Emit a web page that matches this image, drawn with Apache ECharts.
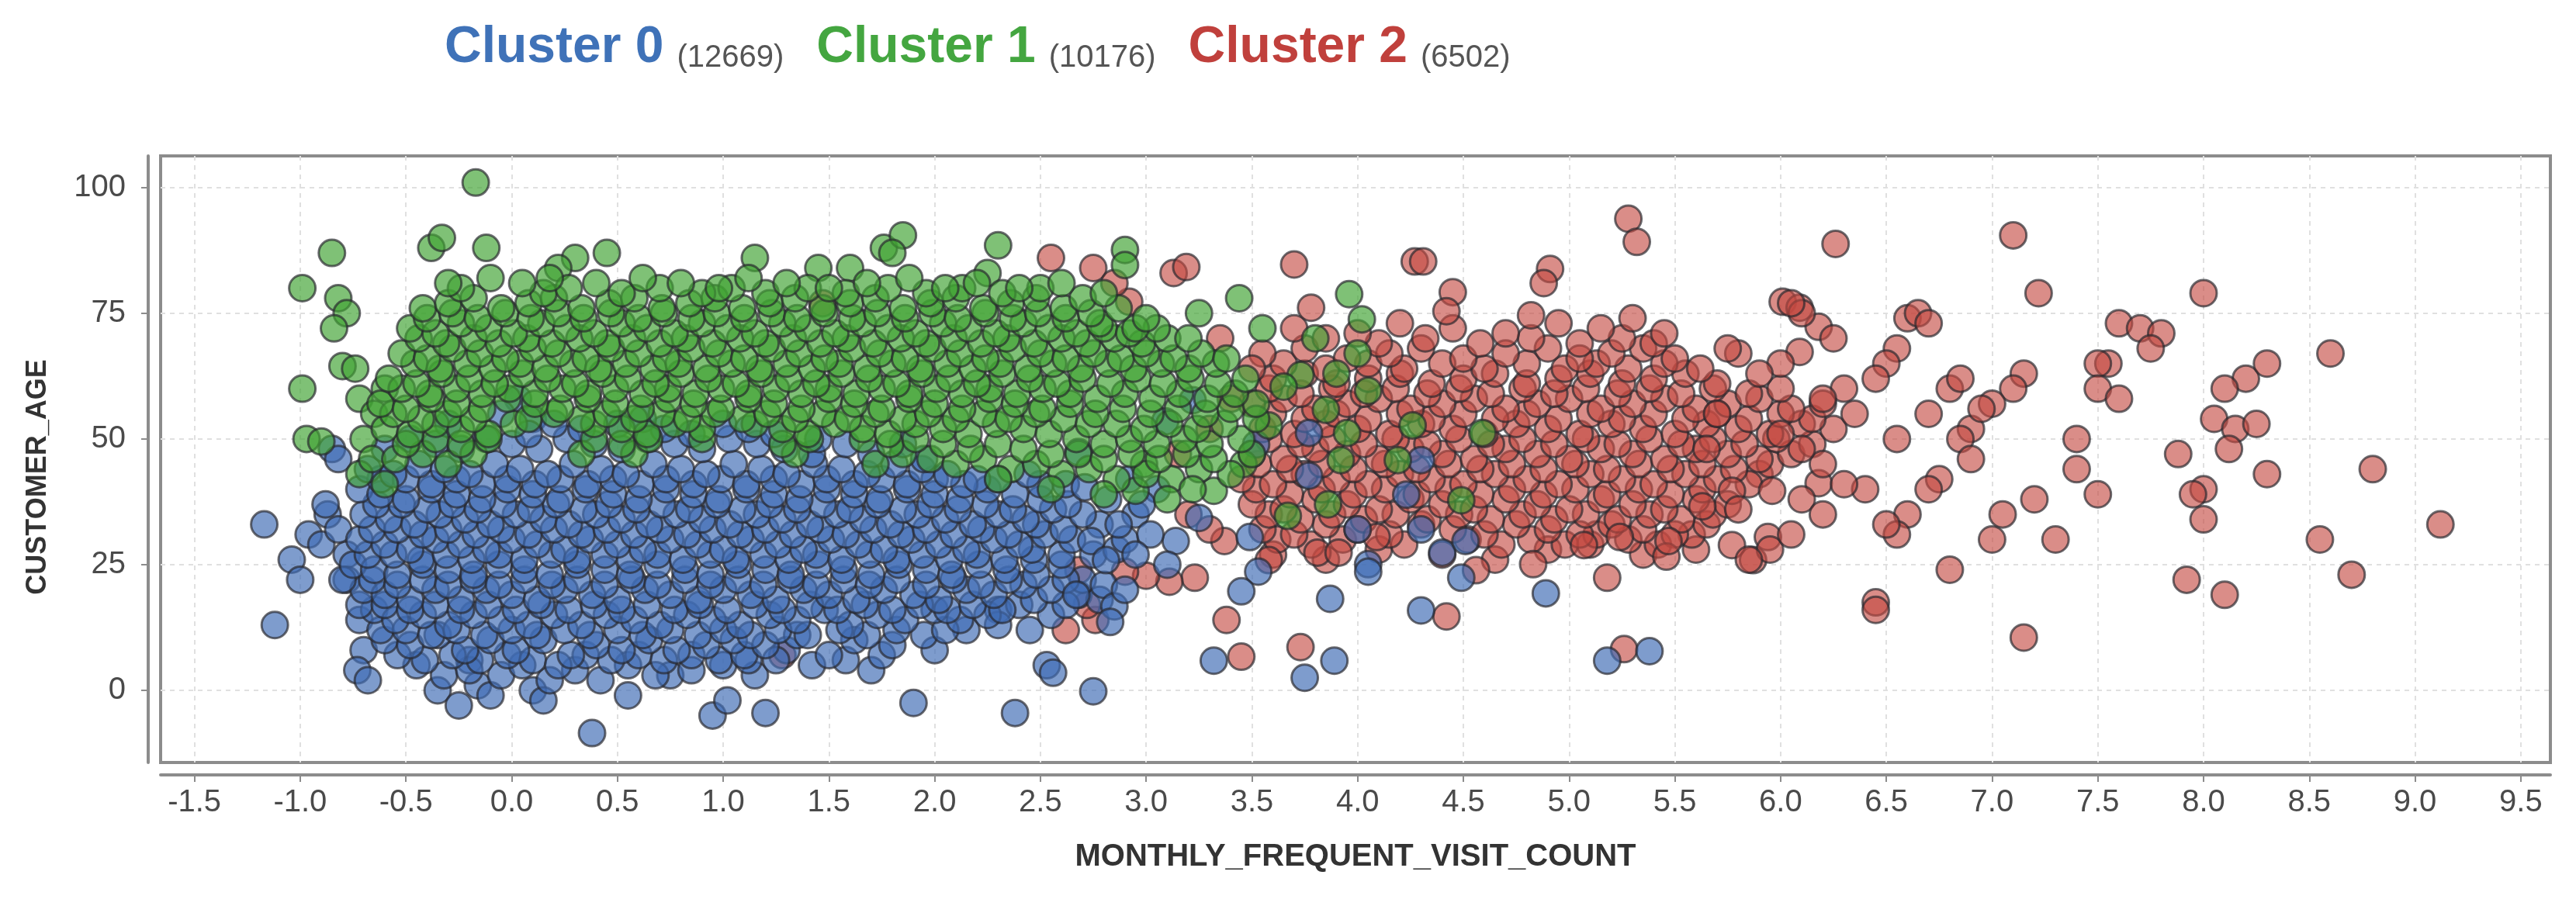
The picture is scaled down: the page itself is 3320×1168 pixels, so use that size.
<!DOCTYPE html>
<html>
<head>
<meta charset="utf-8">
<script src="https://cdn.jsdelivr.net/npm/echarts@6/dist/echarts.min.js"></script>
<style>
html,body{margin:0;padding:0;background:#fff;}
#chart{width:3320px;height:1168px;}
</style>
</head>
<body>
<div id="chart"></div>
<script>
const clusterNames = ['Cluster 0', 'Cluster 1', 'Cluster 2'];
const clusterCounts = ['(12669)', '(10176)', '(6502)'];
const xTicks = [-1.5,-1.0,-0.5,0.0,0.5,1.0,1.5,2.0,2.5,3.0,3.5,4.0,4.5,5.0,5.5,6.0,6.5,7.0,7.5,8.0,8.5,9.0,9.5];
const yTicks = [0,25,50,75,100];
const xName = 'MONTHLY_FREQUENT_VISIT_COUNT';
const yName = 'CUSTOMER_AGE';

const cluster0 = [
[-1.17,33],[-1.12,13],[-1.04,26],[-1.0,22],[-0.96,31],[-0.9,29],[-0.87,35],[-0.88,37],[-0.85,48],[-0.82,46],[-0.78,27],[-0.72,14],[-0.7,8],[-0.73,4],[-0.68,2],[-0.78,22],[-0.82,32],
[-0.35,0],[-0.25,-3],[-0.16,1],[-0.1,-1],[-0.2,6],[0.38,-8.5],[0.1,0],[0.15,-2],[0.55,-1],[0.75,3],[0.95,-5],[1.02,-2],[1.2,-4.5],[1.15,3],[1.7,4],[1.9,-2.5],[2.38,-4.5],[2.53,5],[2.56,3.5],[2.3,16],
[-0.45,5],[-0.32,3],[-0.2,4],[-0.05,3],[0.05,5],[0.18,2],[0.3,4],[0.42,2],[0.55,5],[0.68,3],[0.85,4],[1.0,5],[1.12,6],[1.3,8],
[-0.54,7],[-0.41,6],[-0.28,7],[-0.15,6],[-0.02,7],[0.1,6],[0.22,5],[0.35,7],[0.47,6],[0.6,7],[0.72,6],[0.85,7],[0.98,6],[1.1,7],[1.25,6],[1.42,5],[1.58,6],[1.75,7],[2.0,8],
[-0.6,10],[-0.48,9],[-0.35,11],[-0.22,8],[-0.1,10],[0.02,8],[0.15,10],[0.28,7],[0.4,9],[0.52,8],[0.65,10],[0.78,8],[0.92,9],[1.05,10],[1.2,9],[1.35,11],[1.5,7],[1.62,10],[1.8,9],[1.95,11],[2.15,12],
[-0.62,12],[-0.5,12],[-0.38,11],[-0.26,12],[-0.13,11],[0.0,12],[0.12,11],[0.25,12],[0.37,11],[0.5,12],[0.62,11],[0.75,12],[0.88,11],[1.0,12],[1.13,11],[1.26,12],[1.4,11],[1.55,12],[1.68,11],[1.82,12],[2.05,12],[2.3,13],[2.45,12],
[-0.65,16],[-0.55,14],[-0.42,15],[-0.3,13],[-0.18,15],[-0.05,14],[0.08,13],[0.2,15],[0.33,13],[0.45,15],[0.58,14],[0.7,13],[0.83,15],[0.95,14],[1.08,13],[1.22,15],[1.35,14],[1.48,16],[1.6,13],[1.73,15],[1.86,14],[2.0,16],[2.12,14],[2.25,15],[2.4,17],[2.55,15],[2.68,19],
[-0.72,17],[-0.6,17],[-0.48,16],[-0.36,17],[-0.24,16],[-0.11,17],[0.02,16],[0.14,17],[0.27,16],[0.39,17],[0.52,16],[0.64,17],[0.77,16],[0.89,17],[1.02,16],[1.15,17],[1.28,16],[1.41,17],[1.54,16],[1.67,17],[1.8,16],[1.93,17],[2.06,16],[2.18,17],[2.32,16],[2.47,18],[2.62,17],[2.78,18],
[-0.7,20],[-0.6,19],[-0.48,18],[-0.36,20],[-0.24,18],[-0.12,20],[0.0,19],[0.12,18],[0.25,20],[0.38,19],[0.5,18],[0.63,20],[0.75,19],[0.88,18],[1.0,20],[1.13,19],[1.25,18],[1.38,20],[1.5,19],[1.63,18],[1.76,20],[1.9,19],[2.02,18],[2.15,20],[2.28,19],[2.42,21],[2.55,20],[2.7,22],
[-0.8,22],[-0.66,22],[-0.54,21],[-0.42,22],[-0.3,21],[-0.18,22],[-0.06,21],[0.06,22],[0.19,21],[0.31,22],[0.44,21],[0.57,22],[0.69,21],[0.82,22],[0.94,21],[1.07,22],[1.19,21],[1.32,22],[1.44,21],[1.57,22],[1.69,21],[1.82,22],[1.96,21],[2.09,22],[2.22,21],[2.35,22],[2.48,23],[2.62,22],[2.8,21],
[-0.75,25],[-0.65,24],[-0.54,23],[-0.42,25],[-0.3,24],[-0.18,23],[-0.06,25],[0.06,24],[0.18,23],[0.31,25],[0.44,24],[0.56,23],[0.69,25],[0.82,24],[0.94,23],[1.07,25],[1.2,24],[1.32,23],[1.45,25],[1.57,24],[1.7,23],[1.83,25],[1.96,24],[2.08,23],[2.21,25],[2.34,24],[2.47,26],[2.6,25],[2.75,27],
[-0.68,27],[-0.56,27],[-0.43,26],[-0.31,27],[-0.19,26],[-0.06,27],[0.06,26],[0.19,27],[0.31,26],[0.44,27],[0.56,26],[0.69,27],[0.81,26],[0.94,27],[1.06,26],[1.19,27],[1.31,26],[1.44,27],[1.56,26],[1.69,27],[1.82,26],[1.94,27],[2.07,26],[2.2,27],[2.33,26],[2.46,28],[2.6,27],[2.86,28],
[-0.72,30],[-0.6,29],[-0.48,28],[-0.36,30],[-0.24,29],[-0.12,28],[0.0,30],[0.12,29],[0.25,28],[0.37,30],[0.5,29],[0.62,28],[0.75,30],[0.88,29],[1.0,28],[1.13,30],[1.26,29],[1.38,28],[1.51,30],[1.64,29],[1.76,28],[1.89,30],[2.02,29],[2.15,28],[2.28,30],[2.4,29],[2.52,31],[2.65,30],
[-0.66,32],[-0.54,32],[-0.42,31],[-0.3,32],[-0.17,31],[-0.05,32],[0.08,31],[0.2,32],[0.33,31],[0.45,32],[0.58,31],[0.7,32],[0.83,31],[0.95,32],[1.08,31],[1.2,32],[1.33,31],[1.46,32],[1.58,31],[1.71,32],[1.84,31],[1.96,32],[2.09,31],[2.22,32],[2.35,31],[2.48,33],[2.61,32],[2.78,33],
[-0.7,35],[-0.58,34],[-0.46,33],[-0.34,35],[-0.22,34],[-0.1,33],[0.02,35],[0.15,34],[0.27,33],[0.4,35],[0.52,34],[0.65,33],[0.78,35],[0.9,34],[1.03,33],[1.16,35],[1.28,34],[1.41,33],[1.54,35],[1.66,34],[1.79,33],[1.92,35],[2.05,34],[2.18,33],[2.3,35],[2.43,34],[2.56,36],[2.7,35],
[-0.64,37],[-0.52,37],[-0.4,36],[-0.28,37],[-0.16,36],[-0.04,37],[0.09,36],[0.21,37],[0.34,36],[0.46,37],[0.59,36],[0.71,37],[0.84,36],[0.97,37],[1.09,36],[1.22,37],[1.35,36],[1.47,37],[1.6,36],[1.73,37],[1.85,36],[1.98,37],[2.11,36],[2.24,37],[2.37,36],[2.5,38],[2.63,37],[2.82,38],
[-0.72,40],[-0.62,39],[-0.5,38],[-0.38,40],[-0.26,39],[-0.14,38],[-0.02,40],[0.1,39],[0.23,38],[0.35,40],[0.48,39],[0.6,38],[0.73,40],[0.86,39],[0.98,38],[1.11,40],[1.24,39],[1.36,38],[1.49,40],[1.62,39],[1.74,38],[1.87,40],[2.0,39],[2.12,38],[2.25,40],[2.38,39],[2.5,41],
[-0.62,42],[-0.5,42],[-0.38,41],[-0.26,42],[-0.14,41],[-0.02,42],[0.11,41],[0.23,42],[0.36,41],[0.48,42],[0.61,41],[0.73,42],[0.86,41],[0.99,42],[1.11,41],[1.24,42],[1.37,41],[1.49,42],[1.62,41],[1.75,42],[1.87,41],[2.0,42],[2.14,41],[2.3,42],[2.44,43],[2.62,41],
[-0.68,44],[-0.56,43],[-0.44,45],[-0.32,44],[-0.2,43],[-0.08,45],[0.04,44],[0.17,43],[0.29,45],[0.42,44],[0.54,43],[0.67,45],[0.8,44],[0.92,43],[1.05,45],[1.18,44],[1.3,43],[1.43,45],[1.56,44],[1.68,43],[1.81,45],[1.94,44],[2.06,43],[2.2,42],
[-0.6,48],[-0.48,50],[-0.36,49],[-0.24,48],[-0.12,50],[0.0,49],[0.13,48],[0.26,50],[0.39,49],[0.52,48],[0.64,50],[0.77,49],[0.9,48],[1.03,50],[1.16,49],[1.29,48],[1.42,47],[1.7,47],[1.95,46],
[0.03,58],[0.1,54],[-0.3,53],[0.5,53],[0.08,51],[0.2,53],[0.33,52],[0.72,52],[0.85,51],[1.0,53],[1.12,52],[1.24,51],[1.45,50],[1.58,49],[1.85,49],[-0.05,55],[0.62,54],
[3.22,57.7],[3.09,53.5],[3.52,48.9],[3.77,51.2],[3.77,42.7],[4.3,45.8],[4.23,38.9],[2.68,47.4],[2.71,40.4],[2.74,29.7],[2.81,25.9],[3.14,29.7],[3.25,34.3],[3.49,30.5],[3.53,23.6],[3.45,19.7],[2.85,16.7],[2.83,13.6],[2.67,19],
[4.0,32],[4.05,25.1],[4.05,23.6],[4.3,32],[4.4,27.4],[4.51,29.7],[4.49,22.4],[4.89,19.3],[3.87,18.2],[4.3,15.9],[3.32,5.9],[3.75,2.5],[3.89,5.9],[2.75,-0.2],[5.18,5.9],[5.38,7.8],[2.95,35],[3.05,40],[2.9,30],[3.1,25],
[2.92,42],[2.98,37],[2.87,33],[3.02,31],[2.95,27],[2.9,20]
];

const cluster1 = [
[-0.17,101],[-0.38,88],[-0.33,90],[-0.85,87],[-0.99,80],[-0.82,78],[-0.78,75],[-0.84,72],[-0.8,64.5],[-0.74,64],[-0.99,60],[-0.97,50],[-0.9,49.5],[-0.12,88],[0.3,86],[0.45,87],[0.22,84],
[1.15,86],[1.45,84],[1.6,84],[1.76,88],[1.85,90.5],[1.8,87],[2.3,88.5],[2.25,83],[2.9,87.6],[2.9,84.6],[3.44,78],[3.96,78.8],[4.02,73.8],[3.25,75],
[4.59,51.2],[4.49,37.8],[3.86,37],[3.67,34.7],[4.05,59.6],[4.26,52.7],[4.19,45.8],[3.92,45.8],[3.95,51.2],[3.85,55.8],[3.73,62.7],[3.65,60.4],[3.58,52.7],[3.46,45],[3.32,39.7],[2.95,39.7],[2.99,45],
[-0.72,58],[-0.65,55],[-0.7,50],[-0.6,60],[4.0,67],[3.8,70],[3.55,72],[3.9,63],[-0.72,43],[-0.66,46],[-0.6,41],
[-0.55,46],[-0.42,47],[-0.3,45],[-0.18,47],[0.33,47],[0.58,47],[1.34,47],[1.72,45],[1.85,47],[1.98,46],[2.1,45],[2.23,46],[2.36,44],[2.48,45],[2.6,43],[2.73,44],[2.86,42],[3.0,43],[3.12,42],[3.25,44],[3.4,43],
[2.3,42],[2.55,40],[2.8,39],[3.1,38],[3.22,40],
[-0.5,49],[-0.36,50],[-0.24,49],[-0.11,50],[0.39,50],[0.52,49],[0.65,50],[0.9,50],[1.28,49],[1.41,50],[1.66,50],[1.79,49],[1.91,50],[2.04,49],[2.17,48],[2.3,49],[2.42,48],[2.55,47],[2.68,47],[2.8,46],[2.93,47],[3.06,46],[3.19,47],[3.32,46],[3.5,47],
[-0.6,52],[-0.48,51],[-0.36,53],[-0.24,52],[-0.11,51],[0.01,53],[0.39,53],[0.52,52],[0.64,51],[0.77,53],[0.9,52],[1.15,53],[1.28,52],[1.4,51],[1.53,53],[1.66,52],[1.78,51],[1.91,53],[2.04,52],[2.16,51],[2.29,53],[2.42,52],[2.54,51],[2.67,50],[2.8,49],[2.92,50],[3.05,49],[3.18,50],[3.3,49],[3.45,50],
[-0.56,55],[-0.43,54],[-0.3,55],[-0.18,54],[0.08,54],[0.2,55],[0.33,54],[0.45,55],[0.58,54],[0.71,55],[0.83,54],[0.96,55],[1.09,54],[1.21,55],[1.34,54],[1.47,55],[1.59,54],[1.72,55],[1.85,54],[1.97,55],[2.1,54],[2.23,55],[2.35,54],[2.48,55],[2.61,54],[2.73,53],[2.86,53],[2.99,52],[3.11,53],[3.24,52],[3.37,53],[3.52,54],
[-0.62,57],[-0.5,56],[-0.38,58],[-0.26,57],[-0.14,56],[-0.02,58],[0.11,57],[0.23,56],[0.36,58],[0.49,57],[0.61,56],[0.74,58],[0.86,57],[0.99,56],[1.12,58],[1.24,57],[1.37,56],[1.5,58],[1.62,57],[1.75,56],[1.88,58],[2.0,57],[2.13,56],[2.26,58],[2.38,57],[2.51,56],[2.64,57],[2.76,55],[2.89,56],[3.02,55],[3.15,56],[3.28,55],[3.4,56],[3.52,57],
[-0.52,60],[-0.39,59],[-0.26,60],[-0.14,59],[-0.01,60],[0.11,59],[0.24,60],[0.36,59],[0.49,60],[0.62,59],[0.74,60],[0.87,59],[0.99,60],[1.12,59],[1.25,60],[1.37,59],[1.5,60],[1.63,59],[1.75,60],[1.88,59],[2.01,60],[2.13,59],[2.26,60],[2.39,59],[2.51,60],[2.64,59],[2.77,58],[2.9,59],[3.03,58],[3.16,59],[3.29,58],[3.42,59],
[-0.58,62],[-0.45,61],[-0.33,63],[-0.2,62],[-0.08,61],[0.05,63],[0.17,62],[0.3,61],[0.43,63],[0.55,62],[0.68,61],[0.8,63],[0.93,62],[1.06,61],[1.18,63],[1.31,62],[1.44,61],[1.56,63],[1.69,62],[1.82,61],[1.94,63],[2.07,62],[2.2,61],[2.32,63],[2.45,62],[2.58,61],[2.7,62],[2.83,61],[2.96,62],[3.08,61],[3.21,62],[3.34,61],[3.47,62],
[-0.46,65],[-0.34,64],[-0.21,65],[-0.09,64],[0.04,65],[0.16,64],[0.29,65],[0.41,64],[0.54,65],[0.67,64],[0.79,65],[0.92,64],[1.04,65],[1.17,64],[1.3,65],[1.42,64],[1.55,65],[1.68,64],[1.8,65],[1.93,64],[2.06,65],[2.18,64],[2.31,65],[2.44,64],[2.56,65],[2.69,64],[2.82,65],[2.94,64],[3.07,65],[3.2,64],[3.33,65],
[-0.52,67],[-0.4,66],[-0.28,68],[-0.15,67],[-0.03,66],[0.1,68],[0.22,67],[0.35,66],[0.47,68],[0.6,67],[0.73,66],[0.85,68],[0.98,67],[1.1,66],[1.23,68],[1.36,67],[1.48,66],[1.61,68],[1.74,67],[1.86,66],[1.99,68],[2.12,67],[2.24,66],[2.37,68],[2.5,67],[2.62,66],[2.75,67],[2.88,66],[3.0,67],[3.13,66],[3.26,67],[3.38,66],
[-0.44,70],[-0.31,69],[-0.18,70],[-0.06,69],[0.07,70],[0.19,69],[0.32,70],[0.45,69],[0.57,70],[0.7,69],[0.82,70],[0.95,69],[1.08,70],[1.2,69],[1.33,70],[1.46,69],[1.58,70],[1.71,69],[1.84,70],[1.96,69],[2.09,70],[2.22,69],[2.34,70],[2.47,69],[2.6,70],[2.72,69],[2.85,70],[2.98,69],[3.1,70],
[-0.48,72],[-0.36,71],[-0.24,73],[-0.11,72],[0.01,71],[0.14,73],[0.26,72],[0.39,71],[0.52,73],[0.64,72],[0.77,71],[0.9,73],[1.02,72],[1.15,71],[1.28,73],[1.4,72],[1.53,71],[1.66,73],[1.78,72],[1.91,71],[2.04,73],[2.16,72],[2.29,71],[2.42,73],[2.54,72],[2.67,71],[2.8,72],[2.92,71],[3.05,72],[3.2,70],
[-0.4,74],[-0.28,75],[-0.16,74],[-0.03,75],[0.09,74],[0.22,75],[0.34,74],[0.47,75],[0.6,74],[0.72,75],[0.85,74],[0.97,75],[1.1,74],[1.23,75],[1.35,74],[1.48,75],[1.61,74],[1.73,75],[1.86,74],[1.99,75],[2.11,74],[2.24,75],[2.37,74],[2.49,75],[2.62,74],[2.78,73],[2.95,72],
[-0.42,76],[-0.3,77],[-0.18,78],[-0.05,76],[0.08,77],[0.2,78],[0.33,76],[0.46,77],[0.58,78],[0.71,76],[0.84,77],[0.96,78],[1.09,76],[1.22,77],[1.34,78],[1.47,76],[1.6,77],[1.72,78],[1.85,76],[1.98,77],[2.1,78],[2.23,76],[2.36,77],[2.48,78],[2.61,76],[2.74,75],[2.87,76],[3.0,74],
[-0.24,80],[0.15,79],[0.27,80],[0.52,79],[0.7,80],[0.9,79],[1.04,80],[1.2,79],[1.4,80],[1.58,79],[1.78,80],[1.96,79],[2.13,80],[2.32,79],[2.5,80],[2.7,78],
[-0.3,81],[-0.1,82],[0.05,81],[0.18,82],[0.4,81],[0.62,82],[0.8,81],[0.98,80],[1.12,82],[1.3,81],[1.5,80],[1.68,81],[1.88,82],[2.05,80],[2.2,81],[2.4,80],[2.6,81],[2.8,79]
];

const cluster2 = [
[3.6,27],[3.85,26],[4.1,28],[4.4,27],[4.65,26],[4.9,28],[5.1,29],[5.35,27],[5.6,28],
[3.62,30],[3.78,29],[3.93,30],[4.22,29],[4.52,30],[4.68,29],[4.82,30],[4.98,29],[5.13,31],[5.28,30],[5.42,29],[5.58,31],
[3.55,32],[3.7,31],[3.85,33],[4.0,32],[4.15,31],[4.3,33],[4.45,32],[4.6,31],[4.75,33],[4.9,32],[5.05,31],[5.2,33],[5.35,32],[5.5,31],[5.65,33],
[3.58,35],[3.73,34],[3.88,35],[4.03,34],[4.18,35],[4.33,34],[4.48,35],[4.63,34],[4.78,35],[4.93,34],[5.08,35],[5.23,34],[5.38,35],[5.53,34],[5.68,35],
[3.5,37],[3.65,36],[3.8,38],[3.95,37],[4.1,36],[4.25,38],[4.4,37],[4.55,36],[4.7,38],[4.85,37],[5.0,36],[5.15,38],[5.3,37],[5.45,36],[5.6,38],[5.75,37],
[3.52,40],[3.68,39],[3.83,40],[3.98,39],[4.13,40],[4.28,39],[4.43,40],[4.58,39],[4.73,40],[4.88,39],[5.03,40],[5.18,39],[5.33,40],[5.48,39],[5.63,40],[5.9,43],
[3.45,42],[3.6,41],[3.75,43],[3.9,42],[4.05,41],[4.2,43],[4.35,42],[4.5,41],[4.65,43],[4.8,42],[4.95,41],[5.1,43],[5.25,42],[5.4,41],[5.55,43],[5.7,42],[5.85,41],
[3.53,45],[3.68,44],[3.83,45],[3.98,44],[4.13,45],[4.28,44],[4.43,45],[4.58,44],[4.73,45],[4.88,44],[5.03,45],[5.18,44],[5.33,45],[5.48,44],[5.63,45],[5.78,44],[5.95,45],
[3.5,47],[3.65,46],[3.8,48],[3.95,47],[4.1,46],[4.25,48],[4.4,47],[4.55,46],[4.7,48],[4.85,47],[5.0,46],[5.15,48],[5.3,47],[5.45,46],[5.6,48],[5.75,47],[5.9,46],[6.05,47],
[3.58,50],[3.73,49],[3.88,50],[4.03,49],[4.18,50],[4.33,49],[4.48,50],[4.63,49],[4.78,50],[4.93,49],[5.08,50],[5.23,49],[5.38,50],[5.53,49],[5.68,50],[5.83,49],[5.98,50],[6.15,49],
[3.55,52],[3.7,51],[3.85,53],[4.0,52],[4.15,51],[4.3,53],[4.45,52],[4.6,51],[4.75,53],[4.9,52],[5.05,51],[5.2,53],[5.35,52],[5.5,51],[5.65,53],[5.8,52],[5.95,51],[6.1,53],[6.25,52],
[3.6,55],[3.75,54],[3.9,55],[4.05,54],[4.2,55],[4.35,54],[4.5,55],[4.65,54],[4.8,55],[4.95,54],[5.1,55],[5.25,54],[5.4,55],[5.55,54],[5.7,55],[5.85,54],[6.0,55],[6.15,54],
[3.5,57],[3.65,58],[3.8,56],[3.95,57],[4.1,58],[4.25,56],[4.4,57],[4.55,58],[4.7,56],[4.85,57],[5.0,58],[5.15,56],[5.3,57],[5.45,58],[5.6,56],[5.75,57],[5.9,58],[6.05,56],[6.2,57],
[3.58,60],[3.73,59],[3.88,60],[4.03,59],[4.18,60],[4.33,59],[4.48,60],[4.63,59],[4.78,60],[4.93,59],[5.08,60],[5.23,59],[5.38,60],[5.53,59],[5.68,60],[5.85,59],[6.0,60],
[3.6,62],[3.75,63],[3.9,61],[4.05,62],[4.2,63],[4.35,61],[4.5,62],[4.65,63],[4.8,61],[4.95,62],[5.1,63],[5.25,61],[5.4,62],[5.55,63],[5.7,61],
[3.65,65],[3.85,64],[4.05,65],[4.22,64],[4.4,65],[4.6,64],[4.8,65],[4.98,64],[5.13,65],[5.28,64],[5.45,65],[5.62,64],
[3.55,67],[3.75,68],[3.95,66],[4.15,67],[4.3,68],[4.5,66],[4.7,67],[4.9,68],[5.05,66],[5.2,67],[5.35,68],[5.5,66],
[3.85,70],[4.1,69],[4.32,70],[4.58,69],[4.82,70],[5.05,69],[5.25,70],[5.4,69],
[3.7,72],[4.0,71],[4.2,73],[4.45,72],[4.7,71],[4.95,73],[5.15,72],[5.3,74],[5.45,71],
[5.28,93.8],[5.32,89.2],[6.26,88.8],[3.7,84.7],[4.27,85.3],[4.31,85.3],[3.13,83],[3.19,84.2],[4.91,83.8],[4.88,81],[4.45,79.2],[4.42,75.4],[3.78,76.1],[4.82,74.6],[2.92,77.3],[6.01,77.3],[6.09,76.1],[6.18,72.3],[6.09,67.3],[2.55,86],[2.75,84],[1.47,77],[2.85,81],
[3.73,8.6],[3.45,6.7],[3.38,14],[2.76,14],[4.42,14.7],[5.26,8.2],[4.83,25.1],[5.18,22.4],[3.23,22.4],[3.11,21.6],[3.0,22.8],[2.9,23.6],[2.68,23.9],[3.58,25.9],[3.37,29.7],[3.81,27.4],[3.91,27.4],[4.09,30.5],[4.56,23.9],[5.07,28.9],[5.24,30.5],[5.46,26.6],[5.47,29.7],[5.77,28.9],[5.87,25.9],[5.94,30.5],[5.63,36.6],[5.77,39.7],[6.18,41.2],[5.96,39.7],[1.28,7],[2.62,12],[2.72,17],[3.2,35],[3.3,32],
[3.35,70],[3.5,64],[3.4,58],[3.3,52],[3.15,47],
[7.1,90.5],[7.22,79],[8.0,79],[8.6,67],[8.8,44],[9.12,33],[8.7,23],[8.55,30],[8.1,19],[7.92,22],[7.15,10.5],[6.45,17.5],[6.45,16],[6.8,24],[7.6,73],[7.7,72],[7.8,71],[7.75,68],[7.55,65],[7.5,65],[7.4,50],[7.5,60],[7.6,58],
[8.2,62],[8.3,65],[8.1,60],[8.05,54],[8.15,52],[8.25,53],[8.3,43],[8.12,48],[8.0,40],[7.95,39],[8.0,34],[7.88,47],[7.5,39],[7.4,44],[7.2,38],[7.3,30],[7.05,35],[7.0,30],[7.15,63],[7.1,60],[7.0,57],[6.9,52],[6.85,50],[6.9,46],[6.75,42],[6.7,40],[6.6,35],[6.55,31],[6.5,33],[6.4,40],[6.3,41],[6.2,45],[6.1,48],[6.0,51],
[6.6,74],[6.65,75],[6.7,73],[6.55,68],[6.5,65],[6.45,62],[6.3,60],[6.2,58],[6.35,55],[6.55,50],[6.7,55],[6.8,60],[6.85,62],[6.95,56],[6.25,70],[6.1,75],[6.05,77],[6.0,65],[5.9,63],[5.8,67],[5.75,68],[5.7,55],[5.65,48],[5.95,28],[5.85,26],[5.8,36],[6.05,31],[6.1,38],[6.2,35]
];

const FONT = '"Liberation Sans", Arial, Helvetica, sans-serif';
const chart = echarts.init(document.getElementById('chart'), null, {renderer: 'canvas'});

const clusterColors = ['#3f72b8', '#44a640', '#c0403c'];
const pointFill = ['rgba(62,108,180,0.84)', 'rgba(64,162,50,0.84)', 'rgba(195,72,64,0.78)'];
const datasets = [cluster0, cluster1, cluster2];

function richToken(color, size, bold, padLeft) {
  return {color: color, fontSize: size, fontWeight: bold ? 'bold' : 'normal', fontFamily: FONT,
          lineHeight: size, verticalAlign: 'bottom', padding: [0, 0, 0, padLeft]};
}

const titleText = clusterNames.map((n, i) => '{c' + i + '|' + n + '}{n' + i + '|' + clusterCounts[i] + '}').join('');
const rich = {};
clusterNames.forEach((n, i) => {
  rich['c' + i] = richToken(clusterColors[i], 66, true, i === 0 ? 0 : 42);
  rich['n' + i] = richToken('#555555', 40, false, 17);
});

const seriesOrder = [2, 0, 1];
const series = seriesOrder.map(i => ({
  name: clusterNames[i],
  type: 'scatter',
  data: datasets[i],
  symbol: 'circle',
  symbolSize: 34,
  itemStyle: {color: pointFill[i], borderColor: 'rgba(40,40,45,0.85)', borderWidth: 3},
  emphasis: {disabled: true}
}));

chart.setOption({
  animation: false,
  backgroundColor: '#ffffff',
  title: {
    left: 573, top: 29, padding: 0,
    text: titleText,
    textStyle: {rich: rich}
  },
  grid: {
    left: 207, right: 33, top: 201, bottom: 185,
    show: true, borderColor: '#8c8c8c', borderWidth: 4, backgroundColor: '#ffffff'
  },
  xAxis: {
    type: 'value', min: -1.66, max: 9.64, offset: 16,
    name: xName, nameLocation: 'middle', nameGap: 86,
    nameTextStyle: {fontFamily: FONT, fontSize: 40, fontWeight: 'bold', color: '#333333'},
    axisLine: {show: true, onZero: false, lineStyle: {color: '#8c8c8c', width: 4}},
    axisTick: {show: true, length: 9, customValues: xTicks, lineStyle: {color: '#8c8c8c', width: 2}},
    axisLabel: {customValues: xTicks, margin: 16, fontFamily: FONT, fontSize: 40, color: '#4a4a4a',
                formatter: v => v.toFixed(1)},
    splitLine: {show: true, customValues: xTicks, lineStyle: {color: '#e0e0e0', type: [6, 6], width: 2}}
  },
  yAxis: {
    type: 'value', min: -14.35, max: 106.3, offset: 16,
    name: yName, nameLocation: 'middle', nameGap: 124,
    nameTextStyle: {fontFamily: FONT, fontSize: 36, fontWeight: 'bold', color: '#333333', padding: [0, 46, 0, 0]},
    axisLine: {show: true, onZero: false, lineStyle: {color: '#8c8c8c', width: 4}},
    axisTick: {show: true, length: 9, customValues: yTicks, lineStyle: {color: '#8c8c8c', width: 2}},
    axisLabel: {customValues: yTicks, margin: 29, fontFamily: FONT, fontSize: 40, color: '#4a4a4a'},
    splitLine: {show: true, customValues: yTicks, lineStyle: {color: '#e0e0e0', type: [6, 6], width: 2}}
  },
  series: series
});
</script>
</body>
</html>
